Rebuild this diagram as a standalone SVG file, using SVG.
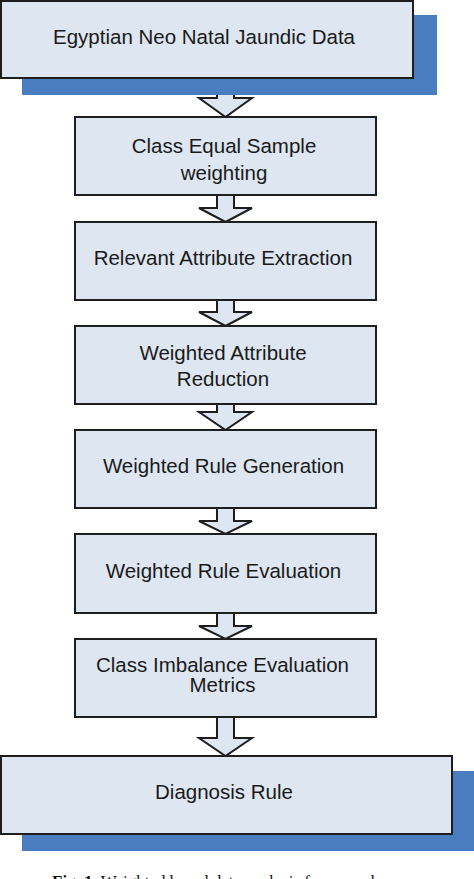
<svg xmlns="http://www.w3.org/2000/svg" width="474" height="879" viewBox="0 0 474 879">
<style>
.box{fill:#dde6f1;stroke:#1e1e1e;stroke-width:2}
.shadow{fill:#4a7dbf}
.arrow{fill:#dde6f1;stroke:#1e1e1e;stroke-width:2;stroke-linejoin:miter}
.t{font-family:"Liberation Sans",Arial,sans-serif;font-size:20.5px;fill:#1a1a1a;text-anchor:middle}
.cap{font-family:"Liberation Serif","Times New Roman",serif;font-size:17px;fill:#111111}
</style>
<rect width="474" height="879" fill="#ffffff"/>
<g id="connectors">
<path class="arrow" d="M217,78 V98 H199 L225.5,117 L252,98 H234 V78"/>
<path class="arrow" d="M217,195 V208 H199 L225.5,222 L252,208 H234 V195"/>
<path class="arrow" d="M217,300 V312 H199 L225.5,326 L252,312 H234 V300"/>
<path class="arrow" d="M217,404 V412 H199 L225.5,430 L252,412 H234 V404"/>
<path class="arrow" d="M217,508 V521 H199 L225.5,534 L252,521 H234 V508"/>
<path class="arrow" d="M217,613 V626 H199 L225.5,639 L252,626 H234 V613"/>
<path class="arrow" d="M217,717 V738 H199 L225.5,756 L252,738 H234 V717"/>
</g>
<g id="n1">
<rect class="shadow" x="22" y="15" width="415" height="80"/>
<rect class="box" x="1" y="1" width="412" height="77"/>
<text class="t" x="204" y="44">Egyptian Neo Natal Jaundic Data</text>
</g>
<g id="n2">
<rect class="box" x="75" y="117" width="301" height="78"/>
<text class="t" x="224" y="153">Class Equal Sample</text>
<text class="t" x="224" y="180">weighting</text>
</g>
<g id="n3">
<rect class="box" x="75" y="222" width="301" height="78"/>
<text class="t" x="223" y="265">Relevant Attribute Extraction</text>
</g>
<g id="n4">
<rect class="box" x="75" y="326" width="301" height="78"/>
<text class="t" x="223" y="360">Weighted Attribute</text>
<text class="t" x="223" y="386">Reduction</text>
</g>
<g id="n5">
<rect class="box" x="75" y="430" width="301" height="78"/>
<text class="t" x="223.5" y="473">Weighted Rule Generation</text>
</g>
<g id="n6">
<rect class="box" x="75" y="534" width="301" height="79"/>
<text class="t" x="223.5" y="578">Weighted Rule Evaluation</text>
</g>
<g id="n7">
<rect class="box" x="75" y="639" width="301" height="78"/>
<text class="t" x="222.5" y="672">Class Imbalance Evaluation</text>
<text class="t" x="222.5" y="692">Metrics</text>
</g>
<g id="n8">
<rect class="shadow" x="22" y="771" width="452" height="80"/>
<rect class="box" x="1" y="756" width="451" height="78"/>
<text class="t" x="224" y="799">Diagnosis Rule</text>
</g>
<text class="cap" x="52" y="887"><tspan font-weight="bold">Fig. 1.</tspan> Weighted based data analysis framework</text>
</svg>
